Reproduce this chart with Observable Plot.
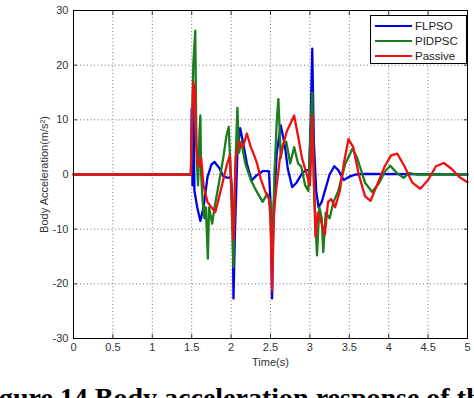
<!DOCTYPE html>
<html>
<head>
<meta charset="utf-8">
<script src="https://cdn.jsdelivr.net/npm/d3@7"></script>
<script src="https://cdn.jsdelivr.net/npm/@observablehq/plot@0.6"></script>
<style>
  body { margin: 0; background: #fff; }
  #wrap { position: relative; width: 474px; height: 398px; overflow: hidden; background: #fff; }
  #legend { position: absolute; left: 370px; top: 15px; width: 95px; height: 47px; border: 1px solid #000; background: #fff;
            font-family: "Liberation Sans", Arial, sans-serif; font-size: 11.5px; color: #222; }
  .row { position: absolute; left: 4px; height: 14px; display: flex; align-items: center; }
  .row span.sw { display: inline-block; width: 37px; height: 2.5px; margin-right: 3px; }
  #caption { position: absolute; left: -26px; top: 384px; white-space: nowrap; font-family: "Liberation Serif", "Times New Roman", serif;
             font-weight: bold; font-size: 28px; line-height: 28px; color: #000; }
</style>
</head>
<body>
<div id="wrap">
  <div id="chart"></div>
  <div id="legend"></div>
  <div id="caption"></div>
</div>
<script>
// ---- data ----
const seriesNames = ["FLPSO", "PIDPSC", "Passive"];
const seriesColors = ["#0000e6", "#1b7d1b", "#ee1111"];
const xTicks = [0, 0.5, 1, 1.5, 2, 2.5, 3, 3.5, 4, 4.5, 5];
const yTicks = [-30, -20, -10, 0, 10, 20, 30];
const xLabel = "Time(s)";
const yLabel = "Body Acceleration(m/s²)";
const captionText = "Figure 14 Body acceleration response of the";

// [time (s), acceleration (m/s^2)]
const flpso = [
  [0,0],[1.49,0],[1.50,12],[1.51,-2],[1.52,14],[1.535,-3],[1.57,-6],[1.61,-8.5],[1.65,-6],[1.70,-0.5],
  [1.75,1.8],[1.79,2.3],[1.85,1.2],[1.90,-0.3],[1.95,-0.6],[2.00,-0.5],[2.02,-6],[2.03,-22.7],[2.05,-10],
  [2.08,4],[2.115,8.5],[2.15,6],[2.20,2],[2.26,-1.1],[2.32,-0.2],[2.40,0.6],[2.48,0.6],[2.50,-5],
  [2.52,-22.7],[2.54,-6],[2.58,4],[2.63,9],[2.68,5.5],[2.72,1],[2.775,-2.3],[2.83,-1.5],[2.90,0.2],
  [2.95,0.8],[2.99,0.8],[3.01,10],[3.03,23],[3.05,6],[3.08,-3],[3.11,-6],[3.15,-5],[3.20,-2.5],
  [3.25,0],[3.31,1.5],[3.36,0.8],[3.43,-1],[3.50,-0.4],[3.58,0],[3.70,0.1],[5,0]
];
const pidpsc = [
  [0,0],[1.49,0],[1.50,5],[1.52,20],[1.545,26.3],[1.56,5],[1.58,-2],[1.60,8],[1.61,10.8],[1.62,0],
  [1.64,-5],[1.66,-8],[1.68,-6],[1.705,-15.4],[1.72,-6],[1.76,-9],[1.79,-6],[1.84,-2],[1.90,3],[1.94,7],
  [1.97,8.7],[2.00,-2],[2.03,-17],[2.05,0],[2.08,12.2],[2.10,4],[2.13,6],[2.18,2],[2.25,-1],[2.32,-3],
  [2.40,-5],[2.46,-3.5],[2.50,-5],[2.52,-17],[2.55,0],[2.58,10],[2.60,13.8],[2.63,3],[2.66,5.6],[2.70,6],
  [2.75,2],[2.80,5],[2.85,2],[2.89,1.5],[2.94,-2],[2.98,-3],[3.01,8],[3.03,15],[3.05,-2],[3.09,-14.8],
  [3.12,-6],[3.15,-8],[3.17,-14.2],[3.20,-7],[3.25,-8],[3.30,-5],[3.36,-3],[3.45,2],[3.54,4.7],[3.60,3],
  [3.70,-1.5],[3.79,-3.2],[3.88,-1.5],[3.95,0.5],[4.02,1.6],[4.10,0.3],[4.19,-0.6],[4.26,0.3],[4.35,0],[5,0]
];
const passive = [
  [0,0],[1.49,0],[1.50,8],[1.52,16.9],[1.54,15],[1.56,5],[1.58,2],[1.60,1.5],[1.62,3],[1.65,-2],
  [1.70,-5],[1.75,-6],[1.80,-6.9],[1.85,-4],[1.90,-1],[1.95,2],[1.985,3.5],[2.01,-5],[2.03,-12],[2.06,3],
  [2.10,6],[2.15,5],[2.20,7.5],[2.25,5],[2.28,4],[2.33,2],[2.38,-1],[2.43,-3],[2.48,-4.5],[2.50,-8],
  [2.52,-21.2],[2.54,-8],[2.57,-3],[2.62,3],[2.67,6],[2.71,8],[2.76,9.5],[2.80,10.8],[2.85,7],[2.90,3],
  [2.95,0.5],[3.00,-2],[3.02,5],[3.03,10.8],[3.05,0],[3.07,-11.4],[3.10,-7],[3.13,-8],[3.19,-11],[3.23,-5],
  [3.27,-4.5],[3.32,-6],[3.38,-3],[3.43,2],[3.49,6.5],[3.55,5],[3.62,0],[3.70,-4],[3.77,-4.8],[3.85,-2],
  [3.95,1.5],[4.03,3.5],[4.11,3.8],[4.20,1.5],[4.30,-1.5],[4.40,-2.6],[4.50,-1],[4.60,1.5],[4.70,2.1],
  [4.80,1],[4.90,-0.5],[5.00,-1.4]
];

// ---- build table ----
const allSeries = [flpso, pidpsc, passive];
const rows = [];
allSeries.forEach((s, i) => s.forEach(([t, v]) => rows.push({t, v, series: seriesNames[i]})));

const font = "Liberation Sans, Arial, sans-serif";
const noText = () => "";
const chart = Plot.plot({
  width: 474,
  height: 372,
  marginLeft: 73,
  marginRight: 7,
  marginTop: 10,
  marginBottom: 34,
  style: {fontFamily: font, fontSize: "11px", color: "#333", background: "#fff"},
  x: {domain: [0, 5], label: null},
  y: {domain: [-30, 30], label: null},
  color: {domain: seriesNames, range: seriesColors},
  marks: [
    Plot.gridX(xTicks, {stroke: "#444", strokeOpacity: 0.75, strokeDasharray: "1,2.5"}),
    Plot.gridY(yTicks, {stroke: "#444", strokeOpacity: 0.75, strokeDasharray: "1,2.5"}),
    Plot.axisX({ticks: xTicks, tickSize: 0, tickPadding: 5, tickFormat: d => String(d), label: xLabel, labelAnchor: "center", labelOffset: 27, labelArrow: "none"}),
    Plot.axisX({ticks: xTicks, anchor: "bottom", tickSize: -4, tickFormat: noText, label: null}),
    Plot.axisX({ticks: xTicks, anchor: "top", tickSize: -4, tickFormat: noText, label: null}),
    Plot.axisY({ticks: yTicks, tickSize: 0, tickPadding: 5, tickFormat: d => String(d), label: yLabel, labelAnchor: "center", labelOffset: 33, labelArrow: "none"}),
    Plot.axisY({ticks: yTicks, anchor: "left", tickSize: -4, tickFormat: noText, label: null}),
    Plot.axisY({ticks: yTicks, anchor: "right", tickSize: -4, tickFormat: noText, label: null}),
    Plot.line(rows, {x: "t", y: "v", z: "series", stroke: "series", strokeWidth: 2.3, strokeLinejoin: "round"}),
    Plot.frame({stroke: "#000", strokeWidth: 1})
  ]
});
document.getElementById("chart").appendChild(chart);

// legend
const leg = document.getElementById("legend");
seriesNames.forEach((n, i) => {
  const r = document.createElement("div");
  r.className = "row";
  r.style.top = (3 + i * 15) + "px";
  const sw = document.createElement("span");
  sw.className = "sw";
  sw.style.background = seriesColors[i];
  r.appendChild(sw);
  r.appendChild(document.createTextNode(n));
  leg.appendChild(r);
});
document.getElementById("caption").textContent = captionText;
</script>
</body>
</html>
